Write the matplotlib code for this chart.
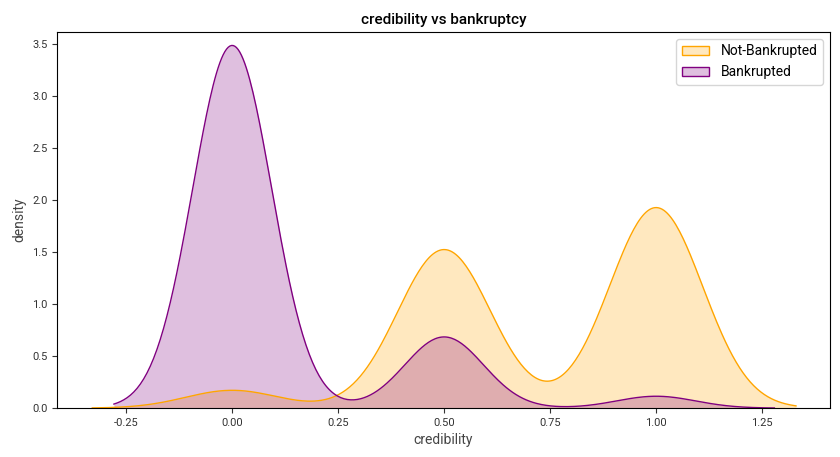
import numpy as np
import matplotlib
matplotlib.use("Agg")
import matplotlib.pyplot as plt
from matplotlib.patches import Patch

plt.rcParams['font.family'] = ['Roboto', 'DejaVu Sans']

values = [0.0, 0.5, 1.0]
not_bankrupt_weights = [0.047, 0.419, 0.530]
bankrupt_weights = [0.795, 0.156, 0.026]
not_bankrupt_bw = 0.11
bankrupt_bw = 0.093
labels = ["Not-Bankrupted", "Bankrupted"]
colors = ["orange", "purple"]

def kde(vals, w, bw):
    v = np.array(vals); w = np.array(w) / np.sum(w)
    x = np.linspace(v.min() - 3 * bw, v.max() + 3 * bw, 400)
    y = (w[None, :] * np.exp(-0.5 * ((x[:, None] - v[None, :]) / bw) ** 2)).sum(1) / (bw * np.sqrt(2 * np.pi))
    return x, y

fig, ax = plt.subplots(figsize=(8.4, 4.57), dpi=100)
for w, bw, c in [(not_bankrupt_weights, not_bankrupt_bw, colors[0]), (bankrupt_weights, bankrupt_bw, colors[1])]:
    x, y = kde(values, w, bw)
    ax.fill_between(x, y, color=c, alpha=0.25, linewidth=0)
    ax.plot(x, y, color=c, linewidth=1)

ax.set_xlim(-0.413, 1.41)
ax.set_ylim(0, 3.62)
ax.set_xticks([-0.25, 0, 0.25, 0.5, 0.75, 1.0, 1.25])
ax.set_xticklabels(["-0.25", "0.00", "0.25", "0.50", "0.75", "1.00", "1.25"])
ax.tick_params(labelsize=8, colors='#333333')
ax.set_xlabel("credibility", fontsize=10, color='#444444')
ax.set_ylabel("density", fontsize=10, color='#444444')
ax.set_title("credibility vs bankruptcy", fontsize=11, fontweight='medium')
handles = [Patch(facecolor=matplotlib.colors.to_rgba(c, 0.25), edgecolor=c, label=l) for l, c in zip(labels, colors)]
ax.legend(handles=handles, loc='upper right', fontsize=10)
fig.subplots_adjust(left=0.068, right=0.988, top=0.93, bottom=0.107)
fig.savefig("out.png")
